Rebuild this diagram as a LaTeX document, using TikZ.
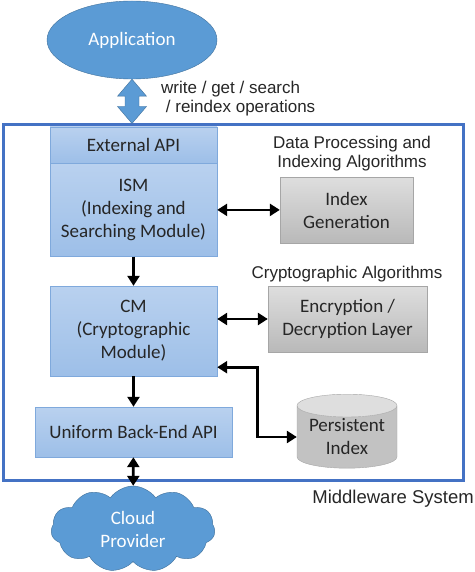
\documentclass[tikz,border=0pt]{standalone}
\usepackage{fontspec}
\setmainfont{Carlito}
\newfontfamily\arialfont{Liberation Sans}
\usetikzlibrary{arrows.meta,positioning,calc,shapes.geometric,shapes.symbols}
\definecolor{AppBlue}{HTML}{5B9BD5}
\definecolor{AppEdge}{HTML}{41719C}
\definecolor{FrameBlue}{HTML}{4472C4}
\definecolor{BoxTop}{HTML}{B9D1EF}
\definecolor{BoxBot}{HTML}{9DBFE8}
\definecolor{BoxEdge}{HTML}{7FA9DC}
\definecolor{GrayTop}{HTML}{DEDEDE}
\definecolor{GrayBot}{HTML}{B9B9B9}
\definecolor{GrayEdge}{HTML}{A6A6A6}
\definecolor{Ink}{HTML}{262626}

\begin{document}
\begin{tikzpicture}[
  x=1pt,y=-1pt,
  every node/.style={font=\fontsize{19}{23}\selectfont,align=center,inner sep=0pt},
  module/.style={rectangle,draw=BoxEdge,top color=BoxTop,bottom color=BoxBot,text=Ink},
  algo/.style={rectangle,draw=GrayEdge,top color=GrayTop,bottom color=GrayBot,text=Ink},
  caption/.style={font=\arialfont\fontsize{17}{19}\selectfont,text=Ink},
  link/.style={line width=2.8pt,-{Triangle[length=10pt,width=12pt]}},
  both/.style={link,{Triangle[length=10pt,width=12pt]}-{Triangle[length=10pt,width=12pt]}}
]
  \useasboundingbox (0,0) rectangle (474,572);

  % client side
  \node[ellipse,fill=AppBlue,draw=AppEdge,text=white,
    minimum width=170,minimum height=78] (app) at (132,40) {Application};

  % middleware frame
  \node[draw=FrameBlue,line width=3pt,minimum width=460,minimum height=355]
    (mw) at (233,302.5) {};
  \node[caption,font=\arialfont\fontsize{18.5}{21}\selectfont,anchor=north east]
    (mws) at (474,490) {Middleware System};

  % modules
  \node[module,minimum width=167,minimum height=36] (ext) at (133.5,145) {External API};
  \node[module,minimum width=167,minimum height=93,below=0pt of ext] (ism)
    {ISM\\(Indexing and\\Searching Module)};
  \node[module,minimum width=167,minimum height=90] (cm) at (133.5,331)
    {CM\\(Cryptographic\\Module)};
  \node[module,minimum width=197,minimum height=50] (ube) at (133.5,432)
    {Uniform Back-End API};

  % algorithms
  \node[caption] (dpa) at (352,154) {Data Processing and\\Indexing Algorithms};
  \node[algo,minimum width=133,minimum height=66] (idx) at (346.5,210)
    {Index\\Generation};
  \node[caption] (cra) at (347,274) {Cryptographic Algorithms};
  \node[algo,minimum width=159,minimum height=66] (enc) at (347.5,319)
    {Encryption /\\Decryption Layer};
  \node[cylinder,shape border rotate=90,aspect=0.3,draw=GrayEdge,text=Ink,
    cylinder uses custom fill,cylinder body fill=GrayBot!75!GrayTop,
    cylinder end fill=GrayTop,minimum width=100,minimum height=74]
    (pidx) at (347,437) {Persistent\\Index};

  % storage
  \node[cloud,cloud puffs=11,cloud puff arc=110,aspect=2,fill=AppBlue,
    draw=AppEdge,text=white,minimum width=164,minimum height=86]
    (cloud) at (133,529) {Cloud\\Provider};

  % block arrow application <-> middleware
  \coordinate (bt) at (app.south);
  \coordinate (bb) at (mw.north -| app.south);
  \filldraw[fill=AppBlue,draw=AppEdge,line join=miter]
    (bt) -- ++(14.5,17) -- ++(-7.5,0) |- ($(bb)+(7,-17)$) -- ++(7.5,0) -- (bb)
    -- ++(-14.5,-17) -- ++(7.5,0) |- ($(bt)+(-7,17)$) -- ++(-7.5,0) -- cycle;
  \node[caption,align=left,anchor=west] (ops) at (161,99)
    {write / get / search\\\ / reindex operations};

  % connectors
  \draw[both] (ism.east) -- (ism.east -| idx.west);
  \draw[link] (ism) -- (cm);
  \draw[both] (enc.west -| cm.east) -- (enc.west);
  \draw[both] ([yshift=9pt]cm.south east) -- ++(40,0) |- (pidx);
  \draw[link] (cm) -- (ube);
  \draw[both] (ube) -- (cloud);
\end{tikzpicture}
\end{document}
